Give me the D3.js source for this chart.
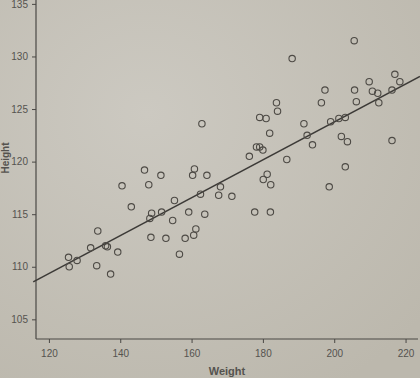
<!DOCTYPE html>
<html>
<head>
<meta charset="utf-8">
<script src="https://cdn.jsdelivr.net/npm/d3@7/dist/d3.min.js"></script>
<style>
  html, body { margin: 0; padding: 0; background: #c6c3ba; }
  svg { display: block; }
</style>
</head>
<body>
<svg id="chart" width="420" height="378"></svg>
<script>
// Data (Weight vs Height)
const weight = [125.5,125.7,127.9,131.7,133.7,133.4,135.9,136.4,139.3,137.3,
  140.5,143.1,146.8,148.0,151.4,148.8,148.3,151.6,148.6,152.8,
  154.7,155.2,156.6,158.2,159.2,160.6,161.2,160.8,160.3,164.3,
  162.5,163.7,162.9,168.1,167.6,171.3,176.2,178.2,179.1,180.0,
  177.7,182.1,181.2,180.1,182.2,181.9,179.1,180.9,183.8,184.1,
  186.7,188.2,191.5,192.4,193.9,196.4,197.4,199.0,201.3,203.1,
  202.0,203.7,203.1,198.6,205.6,205.7,206.2,209.8,210.7,212.2,
  212.5,216.2,217.0,218.4,216.2];
const height = [110.9,110.0,110.6,111.8,113.4,110.1,112.0,111.9,111.4,109.3,
  117.7,115.7,119.2,117.8,118.7,115.1,114.6,115.2,112.8,112.7,
  114.4,116.3,111.2,112.7,115.2,113.0,113.6,119.3,118.7,118.7,
  116.9,115.0,123.6,117.6,116.8,116.7,120.5,121.4,121.4,121.1,
  115.2,115.2,118.8,118.3,117.8,122.7,124.2,124.1,125.6,124.8,
  120.2,129.8,123.6,122.5,121.6,125.6,126.8,123.8,124.1,124.2,
  122.4,121.9,119.5,117.6,131.5,126.8,125.7,127.6,126.7,126.5,
  125.6,126.8,128.3,127.6,122.0];
const xTicks = [120, 140, 160, 180, 200, 220];
const yTicks = [105, 110, 115, 120, 125, 130, 135];
const fitLine = { intercept: 87.73, slope: 0.1802 };
const xLabel = "Weight";
const yLabel = "Height";

const svg = d3.select("#chart");
const W = 420, H = 378;

// background with slight photographic vignette
const defs = svg.append("defs");
const grad = defs.append("radialGradient").attr("id", "bg")
  .attr("cx", "35%").attr("cy", "30%").attr("r", "85%");
grad.append("stop").attr("offset", "0%").attr("stop-color", "#ccc9c1");
grad.append("stop").attr("offset", "100%").attr("stop-color", "#bcb8ad");
svg.append("rect").attr("width", W).attr("height", H).attr("fill", "url(#bg)");

const x = d3.scaleLinear().domain([116.1, 224.05]).range([35, 420]);
const y = d3.scaleLinear().domain([103.13, 135.37]).range([339, 0]);

const textColor = "#55534f";
const axisColor = "#4a4845";

// Y axis
const yAxis = svg.append("g").attr("transform", "translate(36,0)")
  .call(d3.axisLeft(y).tickValues(yTicks).tickSize(4).tickSizeOuter(0).tickPadding(4));
// X axis
const xAxis = svg.append("g").attr("transform", "translate(0,339)")
  .call(d3.axisBottom(x).tickValues(xTicks).tickSize(4).tickSizeOuter(0).tickPadding(7));

[yAxis, xAxis].forEach(g => {
  g.select(".domain").attr("stroke", axisColor).attr("stroke-width", 1.2);
  g.selectAll(".tick line").attr("stroke", axisColor).attr("stroke-width", 1);
  g.selectAll(".tick text").attr("fill", textColor)
    .attr("font-family", "Liberation Sans, Arial, sans-serif").attr("font-size", 10);
});
yAxis.select(".domain").attr("d", "M0,0V339");
xAxis.select(".domain").attr("d", "M36,0H418");

// axis titles
svg.append("text").attr("x", 227).attr("y", 375).attr("text-anchor", "middle")
  .attr("font-family", "Liberation Sans, Arial, sans-serif").attr("font-size", 11)
  .attr("font-weight", "bold").attr("fill", textColor).text(xLabel);
svg.append("text").attr("transform", "translate(9,158) rotate(-90)").attr("text-anchor", "middle")
  .attr("font-family", "Liberation Sans, Arial, sans-serif").attr("font-size", 10)
  .attr("font-weight", "bold").attr("fill", textColor).text(yLabel);

// regression line
const x0 = 115.6, x1 = 224.05;
svg.append("line")
  .attr("x1", x(x0)).attr("y1", y(fitLine.intercept + fitLine.slope * x0))
  .attr("x2", x(x1)).attr("y2", y(fitLine.intercept + fitLine.slope * x1))
  .attr("stroke", "#3c3a37").attr("stroke-width", 1.6);

// points
svg.append("g").selectAll("circle").data(weight.map((w, i) => [w, height[i]]))
  .join("circle")
  .attr("cx", d => x(d[0])).attr("cy", d => y(d[1])).attr("r", 3.2)
  .attr("fill", "none").attr("stroke", "#4d4a45").attr("stroke-width", 1.1);
</script>
</body>
</html>
